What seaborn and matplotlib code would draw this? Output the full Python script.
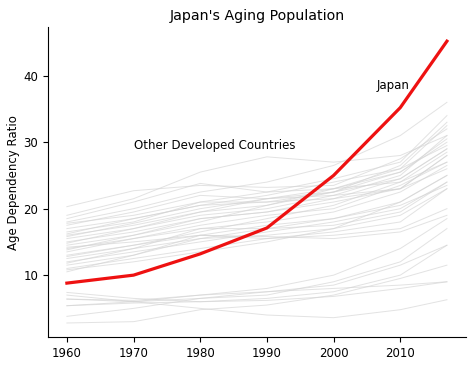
import matplotlib
matplotlib.use("Agg")
import matplotlib.pyplot as plt
import seaborn as sns
import pandas as pd

years = [1960, 1970, 1980, 1990, 2000, 2010, 2017]

japan = [8.8, 10.0, 13.2, 17.1, 25.0, 35.2, 45.2]

others = {
    "c01": [20.3, 22.7, 23.5, 23.2, 23.5, 27.5, 32.0],
    "c02": [19.0, 21.5, 25.5, 27.8, 27.0, 28.0, 31.0],
    "c03": [18.5, 21.0, 23.8, 22.5, 24.5, 27.0, 34.0],
    "c04": [18.0, 20.0, 22.5, 24.0, 26.5, 31.0, 36.0],
    "c05": [17.5, 19.5, 22.0, 21.5, 23.0, 25.5, 30.0],
    "c06": [17.0, 18.5, 20.5, 22.0, 24.0, 26.0, 32.5],
    "c07": [16.5, 18.0, 21.0, 21.0, 22.5, 26.5, 33.0],
    "c08": [16.0, 17.5, 19.5, 20.5, 22.5, 24.5, 29.0],
    "c09": [15.5, 17.0, 19.0, 20.0, 22.0, 25.0, 31.0],
    "c10": [15.0, 16.5, 18.5, 19.5, 21.0, 23.0, 28.0],
    "c11": [14.5, 16.0, 18.0, 20.5, 23.0, 26.0, 29.5],
    "c12": [14.0, 15.5, 17.5, 19.0, 20.0, 23.5, 27.0],
    "c13": [13.5, 15.5, 17.0, 18.0, 19.5, 22.5, 26.5],
    "c14": [13.0, 14.5, 16.5, 18.5, 20.5, 24.0, 28.5],
    "c15": [12.5, 14.0, 15.5, 17.0, 18.5, 21.0, 25.0],
    "c16": [12.0, 13.5, 15.0, 16.5, 18.0, 20.0, 24.0],
    "c17": [11.5, 13.0, 15.5, 16.0, 17.0, 19.0, 23.0],
    "c18": [11.0, 12.5, 14.0, 15.5, 16.0, 17.0, 20.0],
    "c19": [10.5, 13.0, 16.0, 17.5, 18.5, 20.5, 23.5],
    "c20": [17.8, 19.0, 21.0, 22.5, 23.0, 24.0, 27.0],
    "c21": [15.8, 17.8, 20.0, 21.5, 22.0, 23.0, 26.0],
    "c22": [14.8, 17.0, 19.5, 21.5, 22.5, 25.5, 30.5],
    "c23": [13.8, 16.0, 18.5, 19.5, 21.5, 24.5, 29.0],
    "c24": [12.8, 14.5, 16.0, 15.8, 15.5, 16.5, 19.0],
    "c25": [11.8, 14.0, 17.0, 17.0, 17.5, 19.5, 24.0],
    "c26": [16.2, 18.5, 20.5, 21.0, 21.5, 23.0, 28.0],
    "c27": [14.2, 15.0, 16.0, 15.5, 16.5, 18.0, 23.0],
    "c28": [10.8, 12.0, 13.5, 15.0, 17.0, 21.0, 25.0],
    "c29": [7.4, 6.5, 6.0, 6.5, 7.5, 10.0, 14.5],
    "c30": [6.4, 6.2, 7.0, 8.0, 10.0, 14.0, 18.5],
    "c31": [6.4, 6.0, 6.5, 7.5, 8.5, 11.5, 14.5],
    "c32": [5.4, 6.0, 7.0, 7.5, 8.0, 8.5, 9.0],
    "c33": [5.4, 5.8, 6.0, 6.2, 6.8, 8.0, 9.0],
    "c34": [3.8, 5.0, 6.5, 7.0, 9.0, 12.0, 17.0],
    "c35": [2.8, 3.0, 4.8, 5.5, 7.0, 9.5, 11.5],
    "c36": [7.0, 6.0, 5.0, 4.0, 3.6, 4.8, 6.3],
}

rows = []
for name, vals in others.items():
    for y, v in zip(years, vals):
        rows.append({"country": name, "year": y, "ratio": v})
df_other = pd.DataFrame(rows)
df_japan = pd.DataFrame({"year": years, "ratio": japan})

fig = plt.figure(figsize=(4.74, 3.66), dpi=100)
ax = fig.add_axes([0.101, 0.079, 0.882, 0.847])

sns.lineplot(data=df_other, x="year", y="ratio", units="country", estimator=None,
             color="lightgray", linewidth=0.7, alpha=0.65, ax=ax, legend=False)
sns.lineplot(data=df_japan, x="year", y="ratio", color="#ee1111", linewidth=2.3, ax=ax)

ax.text(2006.5, 38.5, "Japan", fontsize=8.5, va="center")
ax.text(1970, 29.5, "Other Developed Countries", fontsize=8.5, va="center")

ax.set_title("Japan's Aging Population", fontsize=10.2, pad=5)
ax.set_xlabel("")
ax.set_ylabel("Age Dependency Ratio", fontsize=8.5, labelpad=2)
ax.set_xticks([1960, 1970, 1980, 1990, 2000, 2010])
ax.set_yticks([10, 20, 30, 40])
ax.tick_params(labelsize=8.5, length=3.5)
sns.despine(ax=ax)

fig.savefig("out.png", dpi=100)
